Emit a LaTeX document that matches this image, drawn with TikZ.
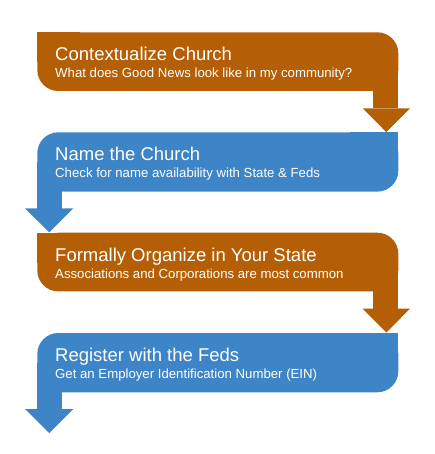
\documentclass[tikz,border=0pt]{standalone}
\usepackage{fontspec}
\setmainfont{Liberation Sans}
\definecolor{bandorange}{HTML}{B45F06}
\definecolor{bandblue}{HTML}{3D85C6}
\tikzset{
  titletext/.style={anchor=base west, inner sep=0pt, text=white, font=\fontsize{18.5}{20}\selectfont},
  subtext/.style={anchor=base west, inner sep=0pt, text=white, font=\fontsize{13.2}{14}\selectfont},
}
% #1 top y, #2 colour : arrow on the right
\newcommand\bandarrowright[2]{%
  \fill[#2, rounded corners=21pt] (37.3,#1) rectangle (398.3,#1+58.7);
  \fill[#2] (37.3,#1) rectangle (80,#1+30);
  \fill[#2] (373.3,#1+30) rectangle (398.3,#1+76.2);
  \fill[#2] (362.7,#1+76) -- (410,#1+76) -- (386.3,#1+99.8) -- cycle;
}
\newcommand\bandarrowleft[2]{%
  \fill[#2, rounded corners=21pt] (37.3,#1) rectangle (398.3,#1+59.3);
  \fill[#2] (350,#1) rectangle (398.3,#1+30);
  \fill[#2] (36.9,#1+30) rectangle (61.7,#1+76.2);
  \fill[#2] (25,#1+76) -- (73.4,#1+76) -- (49.2,#1+100.1) -- cycle;
}
\begin{document}
\begin{tikzpicture}[x=1pt,y=-1pt]
\useasboundingbox (0,0) rectangle (434,454);
\bandarrowright{32.3}{bandorange}
\bandarrowleft{132.3}{bandblue}
\bandarrowright{232.7}{bandorange}
\bandarrowleft{333}{bandblue}
\node[titletext] (t1) at (55,60.5) {Contextualize Church};
\node[subtext] (s1) at (55,77.5) {What does Good News look like in my community?};
\node[titletext] (t2) at (55,161) {Name the Church};
\node[subtext] (s2) at (55,177.6) {Check for name availability with State \& Feds};
\node[titletext] (t3) at (55,261.5) {Formally Organize in Your State};
\node[subtext] (s3) at (55,278.3) {Associations and Corporations are most common};
\node[titletext] (t4) at (55,361.8) {Register with the Feds};
\node[subtext] (s4) at (55,378.5) {Get an Employer Identification Number (EIN)};
\end{tikzpicture}
\end{document}
